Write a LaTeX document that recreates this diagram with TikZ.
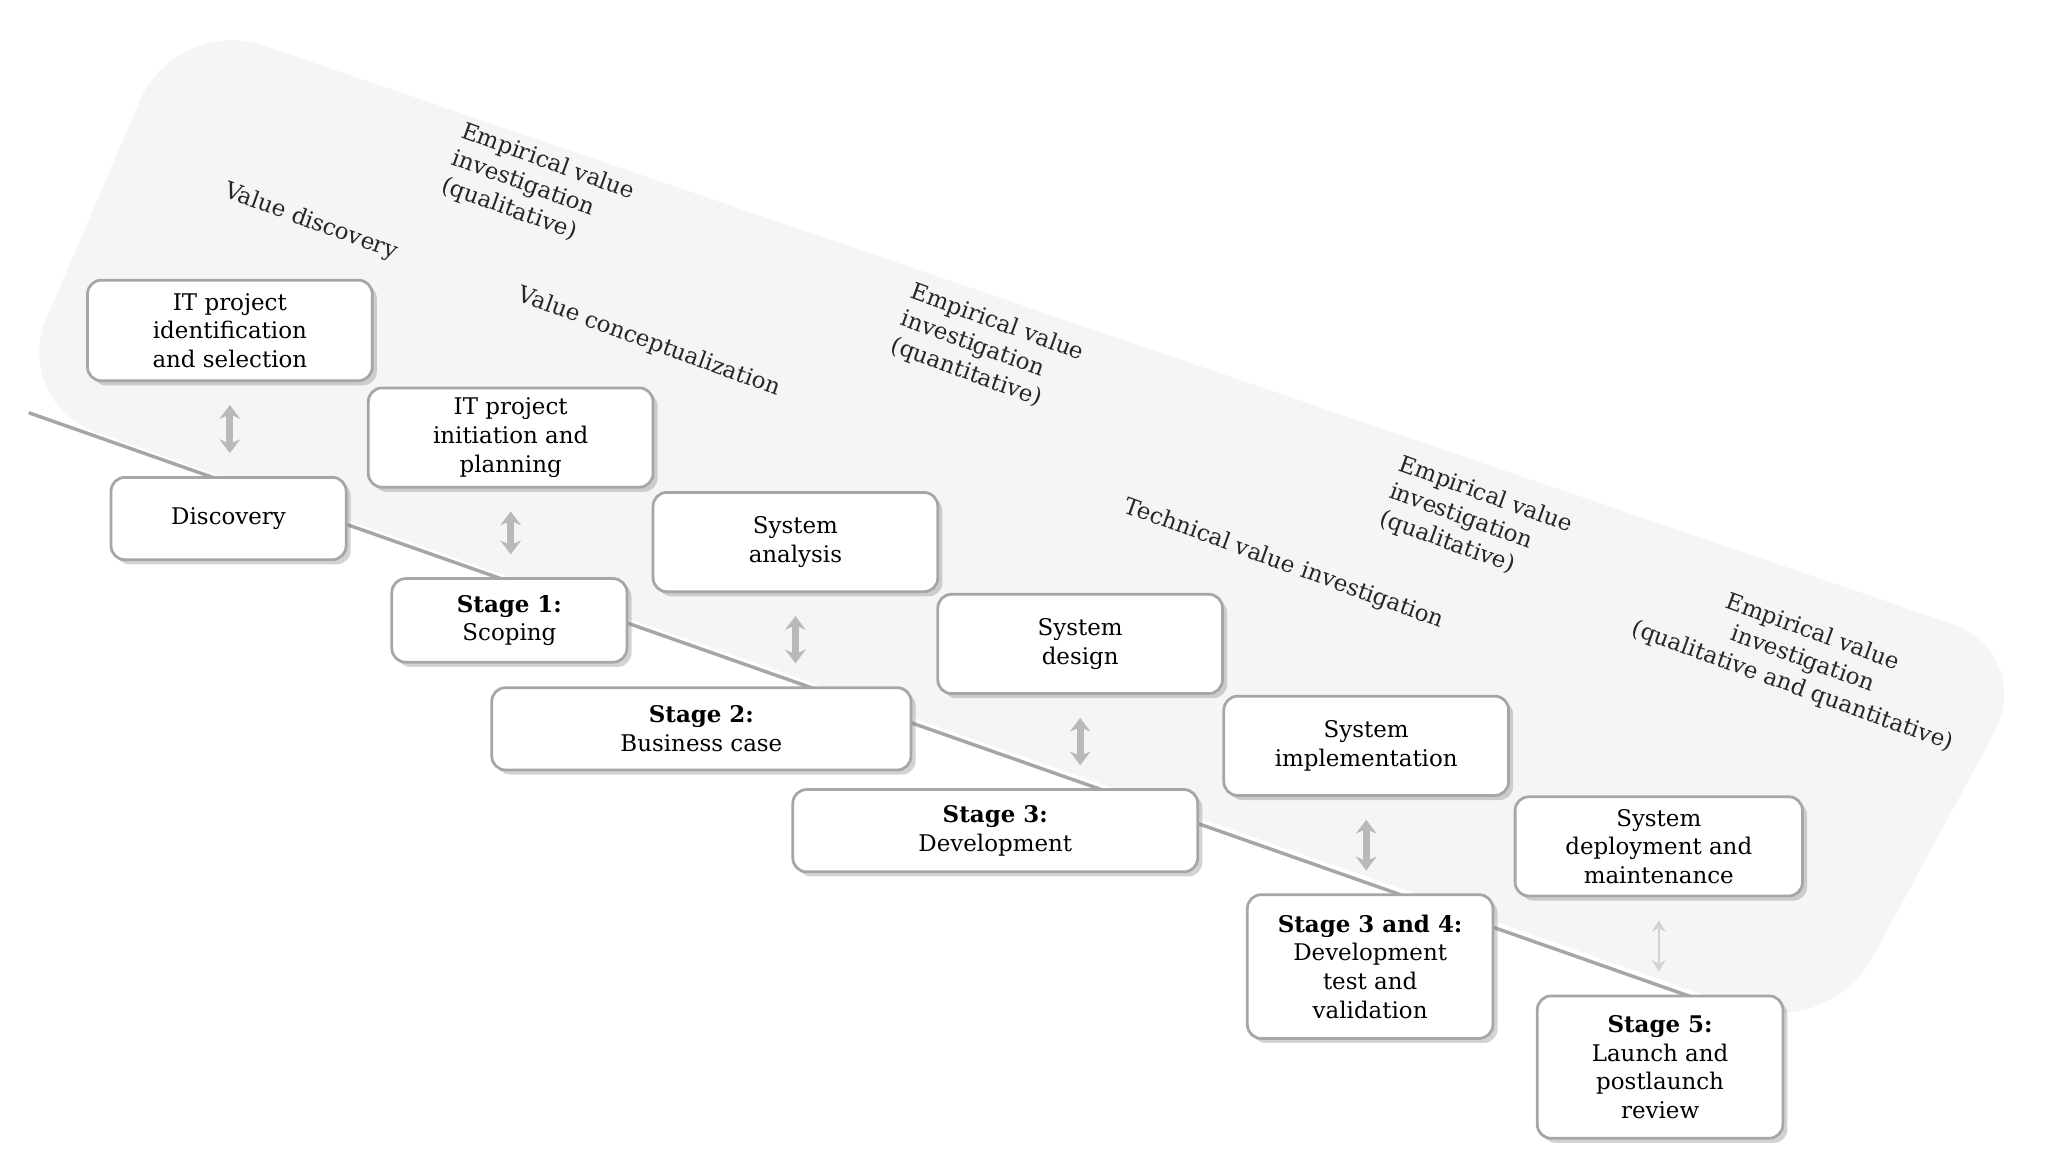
\documentclass[tikz,border=0pt]{standalone}
\usepackage{fontspec}
\setmainfont{DejaVu Serif}
\usetikzlibrary{shadows,arrows.meta}
\begin{document}
\begin{tikzpicture}[x=0.02cm,y=-0.02cm,
  box/.style={draw=gray!70,line width=1.2pt,rounded corners=6pt,fill=white,
    drop shadow={shadow xshift=2pt,shadow yshift=-2pt,opacity=0.35},
    align=center,font=\fontsize{10}{12.5}\selectfont,inner sep=2pt},
  lbl/.style={rotate=-20,font=\fontsize{10}{12.5}\selectfont,align=left,text=black!85},
  dar/.style={{Stealth[length=6pt,width=9pt]}-{Stealth[length=6pt,width=9pt]},line width=3pt,draw=gray!55},
  tar/.style={{Stealth[length=5pt,width=6pt]}-{Stealth[length=5pt,width=6pt]},line width=1pt,draw=gray!35}]
\useasboundingbox (0,0) rectangle (1568,882);
% band
\fill[gray!8,rounded corners=40pt] (8,308) -- (135,12) -- (1560,500) -- (1400,795) -- cycle;
\draw[gray!70,line width=1.5pt] (22,316) -- (1300,765);
% boxes
\node[box,minimum width=218*0.02cm,minimum height=77*0.02cm] (a1) at (176,253) {IT project\\identification\\and selection};
\node[box,minimum width=180*0.02cm,minimum height=63*0.02cm] (b1) at (175,397) {Discovery};
\node[box,minimum width=218*0.02cm,minimum height=76*0.02cm] (a2) at (391,335) {IT project\\initiation and\\planning};
\node[box,minimum width=180*0.02cm,minimum height=64*0.02cm] (b2) at (390,475) {\textbf{Stage 1:}\\Scoping};
\node[box,minimum width=218*0.02cm,minimum height=76*0.02cm] (a3) at (609,415) {System\\analysis};
\node[box,minimum width=321*0.02cm,minimum height=63*0.02cm] (b3) at (537,558) {\textbf{Stage 2:}\\Business case};
\node[box,minimum width=218*0.02cm,minimum height=76*0.02cm] (a4) at (827,493) {System\\design};
\node[box,minimum width=310*0.02cm,minimum height=63*0.02cm] (b4) at (762,636) {\textbf{Stage 3:}\\Development};
\node[box,minimum width=218*0.02cm,minimum height=76*0.02cm] (a5) at (1046,571) {System\\implementation};
\node[box,minimum width=188*0.02cm,minimum height=110*0.02cm] (b5) at (1049,740) {\textbf{Stage 3 and 4:}\\Development\\test and\\validation};
\node[box,minimum width=220*0.02cm,minimum height=76*0.02cm] (a6) at (1270,648) {System\\deployment and\\maintenance};
\node[box,minimum width=188*0.02cm,minimum height=109*0.02cm] (b6) at (1271,817) {\textbf{Stage 5:}\\Launch and\\postlaunch\\review};
% arrows
\draw[dar] ([yshift=-10pt]a1.south) -- ([yshift=10pt]a1.south |- b1.north);
\draw[dar] ([yshift=-10pt]a2.south) -- ([yshift=10pt]a2.south |- b2.north);
\draw[dar] ([yshift=-10pt]a3.south) -- ([yshift=10pt]a3.south |- b3.north);
\draw[dar] ([yshift=-10pt]a4.south) -- ([yshift=10pt]a4.south |- b4.north);
\draw[dar] ([yshift=-10pt]a5.south) -- ([yshift=10pt]a5.south |- b5.north);
\draw[tar] ([yshift=-10pt]a6.south) -- ([yshift=10pt]a6.south |- b6.north);
% labels
\node[lbl] (l1) at (238,170) {Value discovery};
\node[lbl] (l2) at (412,145) {Empirical value\\investigation\\(qualitative)};
\node[lbl] (l3) at (497,262) {Value conceptualization};
\node[lbl] (l4) at (756,268) {Empirical value\\investigation\\(quantitative)};
\node[lbl] (l5) at (983,432) {Technical value investigation};
\node[lbl] (l6) at (1130,400) {Empirical value\\investigation\\(qualitative)};
\node[lbl,align=center] (l7) at (1380,505) {Empirical value\\investigation\\(qualitative and quantitative)};
\end{tikzpicture}
\end{document}
